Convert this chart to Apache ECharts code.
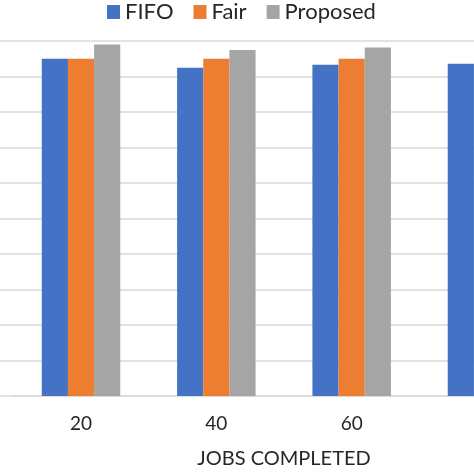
<!DOCTYPE html>
<html>
<head>
<meta charset="utf-8">
<script src="https://cdn.jsdelivr.net/npm/echarts@6/dist/echarts.min.js"></script>
<style>html,body{margin:0;padding:0;background:#fff}#c{width:474px;height:474px}</style>
</head>
<body>
<div id="c"></div>
<script>
const categories = ['20', '40', '60', '80'];
const fifo = [95.0, 92.5, 93.3, 93.6];
const fair = [95.0, 95.0, 95.0, null];
const proposed = [99.0, 97.5, 98.2, null];
const seriesNames = ['FIFO', 'Fair', 'Proposed'];
const colors = ['#4472C4', '#ED7D31', '#A5A5A5'];

const FONT = 'Lato';
const chart = echarts.init(document.getElementById('c'), null, {renderer: 'canvas'});
chart.setOption({
  animation: false,
  color: colors,
  textStyle: {fontFamily: FONT},
  legend: {
    data: seriesNames,
    top: -4,
    left: 102,
    itemWidth: 13,
    itemHeight: 14,
    itemGap: 20,
    icon: 'rect',
    textStyle: {fontSize: 22, color: '#262626', fontFamily: FONT}
  },
  grid: [
    {left: 0, right: 0, top: 41, height: 355, outerBoundsMode: 'none', containLabel: false},
    {left: 13.35, width: 541.3, top: 41, height: 355, outerBoundsMode: 'none', containLabel: false}
  ],
  xAxis: [
    {gridIndex: 0, type: 'value', min: 0, max: 1, show: false},
    {
      gridIndex: 1, type: 'category', data: categories,
      axisLine: {show: true, lineStyle: {color: '#d9d9d9', width: 1.5}},
      axisTick: {show: false},
      axisLabel: {fontSize: 19, color: '#262626', margin: 18, fontFamily: FONT},
      name: 'JOBS COMPLETED', nameLocation: 'middle', nameGap: 53,
      nameTextStyle: {fontSize: 20, color: '#262626', fontFamily: FONT}
    }
  ],
  yAxis: [
    {
      gridIndex: 0, type: 'value', min: 0, max: 100, interval: 10,
      axisLabel: {show: false}, axisLine: {show: false}, axisTick: {show: false},
      splitLine: {show: true, lineStyle: {color: '#d9d9d9', width: 1.5}}
    },
    {
      gridIndex: 1, type: 'value', min: 0, max: 100, interval: 10,
      axisLabel: {show: false}, axisLine: {show: false}, axisTick: {show: false},
      splitLine: {show: false}
    }
  ],
  series: [
    {name: seriesNames[0], type: 'bar', xAxisIndex: 1, yAxisIndex: 1, data: fifo, barGap: '0%', barCategoryGap: '42%'},
    {name: seriesNames[1], type: 'bar', xAxisIndex: 1, yAxisIndex: 1, data: fair, barGap: '0%', barCategoryGap: '42%'},
    {name: seriesNames[2], type: 'bar', xAxisIndex: 1, yAxisIndex: 1, data: proposed, barGap: '0%', barCategoryGap: '42%'}
  ]
});
</script>
</body>
</html>
